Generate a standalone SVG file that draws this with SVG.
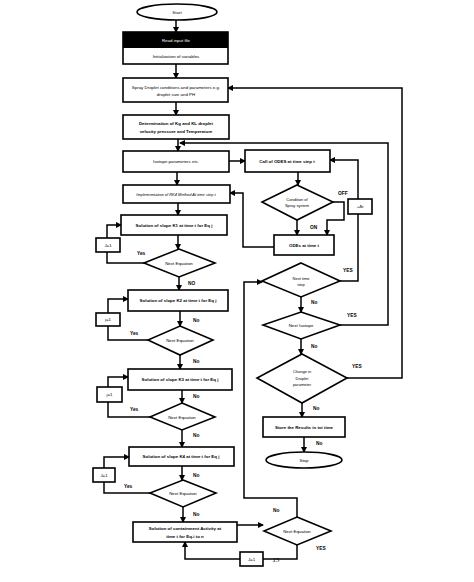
<svg xmlns="http://www.w3.org/2000/svg" width="474" height="582" viewBox="0 0 474 582">
<defs>
<marker id="ah" markerWidth="6" markerHeight="6" refX="5" refY="3" orient="auto" markerUnits="userSpaceOnUse">
<path d="M0,0 L6,3 L0,6 Z" fill="#000"/>
</marker>
<style>
.b{fill:#fff;stroke:#000;stroke-width:1.6}
.c{fill:none;stroke:#000;stroke-width:1.5;marker-end:url(#ah)}
.l{fill:none;stroke:#000;stroke-width:1.5}
text{font-family:"Liberation Sans",Arial,sans-serif;font-size:4.4px;text-anchor:middle;fill:#000}
.bd{font-weight:bold}
.lb{font-size:4.8px;font-weight:bold;text-anchor:start}
</style>
</defs>
<rect width="474" height="582" fill="#fff"/>
<g id="connectors">
<path class="c" d="M176,20 V32"/>
<path class="c" d="M176,64 V78"/>
<path class="c" d="M176,102 V115"/>
<path class="c" d="M178,139 V151"/>
<path class="c" d="M229,161 H245"/>
<path class="c" d="M177,172 V185"/>
<path class="c" d="M298,172 V185"/>
<path class="c" d="M297,220 V235"/>
<path class="c" d="M333,202 H344 V220 H327 V235"/>
<path class="c" d="M274,247 H243 V193 H230"/>
<path class="c" d="M178,203 V215"/>
<path class="c" d="M178,235 V249"/>
<path class="c" d="M144,263 H107 V225 H121"/>
<path class="c" d="M179,277 V290"/>
<path class="c" d="M180,311 V326"/>
<path class="c" d="M148,340 H108 V299 H128"/>
<path class="c" d="M180,355 V369"/>
<path class="c" d="M182,390 V403"/>
<path class="c" d="M150,417 H108 V377 H128"/>
<path class="c" d="M182,430 V447"/>
<path class="c" d="M182,466 V480"/>
<path class="c" d="M150,493 H104 V457 H129"/>
<path class="c" d="M183,507 V522"/>
<path class="c" d="M237,525 H263"/>
<path class="c" d="M297,517 V498 H244 V282 H262"/>
<path class="l" d="M297,545 V559 H263"/>
<path class="c" d="M240,559 H185 V542"/>
<path class="c" d="M340,281 H358 V160 H330"/>
<path class="c" d="M301,297 V312"/>
<path class="c" d="M340,325 H388 V143 H180"/>
<path class="c" d="M301,339 V354"/>
<path class="c" d="M347,378 H402 V88 H228"/>
<path class="c" d="M302,403 V417"/>
<path class="c" d="M304,437 V452"/>
</g>
<g id="labels">
<text class="lb" x="338" y="195">OFF</text>
<text class="lb" x="310" y="229">ON</text>
<text class="lb" x="137" y="255">Yes</text>
<text class="lb" x="188" y="285">NO</text>
<text class="lb" x="193" y="322">No</text>
<text class="lb" x="130" y="335">Yes</text>
<text class="lb" x="193" y="363">No</text>
<text class="lb" x="193" y="398">No</text>
<text class="lb" x="130" y="411">Yes</text>
<text class="lb" x="193" y="437">No</text>
<text class="lb" x="193" y="477">No</text>
<text class="lb" x="124" y="488">Yes</text>
<text class="lb" x="193" y="516">No</text>
<text class="lb" x="273" y="512">No</text>
<text class="lb" x="316" y="550">YES</text>
<text class="lb" x="343" y="272">YES</text>
<text class="lb" x="311" y="304">No</text>
<text class="lb" x="347" y="317">YES</text>
<text class="lb" x="311" y="348">No</text>
<text class="lb" x="352" y="368">YES</text>
<text class="lb" x="313" y="410">No</text>
<text class="lb" x="316" y="445">No</text>
<text x="276" y="562" style="font-size:7px;font-style:italic;font-family:'Liberation Serif',serif">15</text>
</g>
<g id="start">
<ellipse class="b" cx="177" cy="12" rx="40" ry="8"/>
<text x="177" y="14">Start</text>
</g>
<g id="read">
<rect x="123" y="32" width="105" height="32" class="b"/>
<rect x="123" y="32" width="105" height="16" fill="#000"/>
<text x="176" y="41.5" fill="#fff" style="fill:#fff">Read input file</text>
<text x="176" y="57.5">Initialization of variables</text>
</g>
<g id="spray">
<rect x="123" y="78" width="105" height="24" class="b"/>
<text x="176" y="88.5">Spray Droplet conditions and parameters e.g.</text>
<text x="176" y="96">droplet size and PH</text>
</g>
<g id="determination">
<rect x="123" y="115" width="106" height="24" class="b"/>
<text class="bd" x="176" y="124.5">Determination of Kg and KL droplet</text>
<text class="bd" x="176" y="132.5">velocity pressure and Temperature</text>
</g>
<g id="isotope">
<rect x="123" y="151" width="106" height="21" class="b"/>
<text x="176" y="163">Isotope parameters etc.</text>
</g>
<g id="callodes">
<rect x="245" y="150" width="85" height="22" class="b"/>
<text class="bd" x="287" y="162.5">Call of ODES at time step t</text>
</g>
<g id="implementation">
<rect x="123" y="185" width="107" height="18" class="b"/>
<text x="176" y="195.5" style="font-style:italic;font-size:4px">Implementation of RK4 Method At time step t</text>
</g>
<g id="condition">
<polygon class="b" points="297,185 333,202 297,220 262,202"/>
<text x="297" y="200.5" style="font-size:4px">Condition of</text>
<text x="297" y="207" style="font-size:4px">Spray system</text>
</g>
<g id="odes">
<rect x="274" y="235" width="60" height="20" class="b"/>
<text class="bd" x="304" y="246.5">ODEs at time t</text>
</g>
<g id="dt">
<rect x="348" y="199" width="24" height="15" class="b"/>
<text x="360" y="208">+Δt</text>
</g>
<g id="k1">
<rect x="121" y="215" width="106" height="20" class="b"/>
<text class="bd" x="174" y="226.5">Solution of slope K1 at time t for Eq j</text>
</g>
<g id="j1a">
<rect x="96" y="238" width="24" height="14" class="b"/>
<text x="108" y="246.5">J=1</text>
</g>
<g id="ne1">
<polygon class="b" points="179,249 215,263 179,277 144,263"/>
<text x="179" y="264.5">Next Equation</text>
</g>
<g id="k2">
<rect x="128" y="290" width="100" height="21" class="b"/>
<text class="bd" x="178" y="302">Solution of slope K2 at time t for Eq j</text>
</g>
<g id="j1b">
<rect x="96" y="313" width="24" height="13" class="b"/>
<text x="108" y="321">j=1</text>
</g>
<g id="ne2">
<polygon class="b" points="180,326 213,340 180,355 148,340"/>
<text x="180" y="341.5">Next Equation</text>
</g>
<g id="k3">
<rect x="128" y="369" width="104" height="21" class="b"/>
<text class="bd" x="180" y="381">Solution of slope K3 at time t for Eq j</text>
</g>
<g id="j1c">
<rect x="97" y="387" width="25" height="15" class="b"/>
<text x="109.5" y="396">j=1</text>
</g>
<g id="ne3">
<polygon class="b" points="182,403 215,417 182,430 150,417"/>
<text x="182" y="418.5">Next Equation</text>
</g>
<g id="k4">
<rect x="129" y="447" width="105" height="19" class="b"/>
<text class="bd" x="181" y="458">Solution of slope K4 at time t for Eq j</text>
</g>
<g id="j1d">
<rect x="93" y="468" width="22" height="14" class="b"/>
<text x="104" y="476.5">J=1</text>
</g>
<g id="ne4">
<polygon class="b" points="183,480 216,493 183,507 150,493"/>
<text x="183" y="494.5">Next Equation</text>
</g>
<g id="containment">
<rect x="133" y="522" width="104" height="20" class="b"/>
<text class="bd" x="185" y="530">Solution of containment Activity at</text>
<text class="bd" x="185" y="538">time t for Eq-i to n</text>
</g>
<g id="ne5">
<polygon class="b" points="297,517 331,531 297,545 264,531"/>
<text x="297" y="532.5">Next Equation</text>
</g>
<g id="j1e">
<rect x="240" y="552" width="23" height="14" class="b"/>
<text x="251.5" y="560.5">J=1</text>
</g>
<g id="nexttime">
<polygon class="b" points="301,263 340,281 301,297 262,281"/>
<text x="301" y="279.5" style="font-size:4px">Next time</text>
<text x="301" y="286" style="font-size:4px">step</text>
</g>
<g id="nextisotope">
<polygon class="b" points="301,312 340,325 301,339 263,325"/>
<text x="301" y="326.5">Next Isotope</text>
</g>
<g id="change">
<polygon class="b" points="302,354 347,378 302,403 257,378"/>
<text x="302" y="373" style="font-size:4px">Change in</text>
<text x="302" y="379.5" style="font-size:4px">Droplet</text>
<text x="302" y="386" style="font-size:4px">parameter</text>
</g>
<g id="store">
<rect x="263" y="417" width="82" height="20" class="b"/>
<text class="bd" x="304" y="428.5">Store the Results in txt time</text>
</g>
<g id="stop">
<ellipse class="b" cx="304" cy="460" rx="38" ry="8"/>
<text x="304" y="462">Stop</text>
</g>
</svg>
